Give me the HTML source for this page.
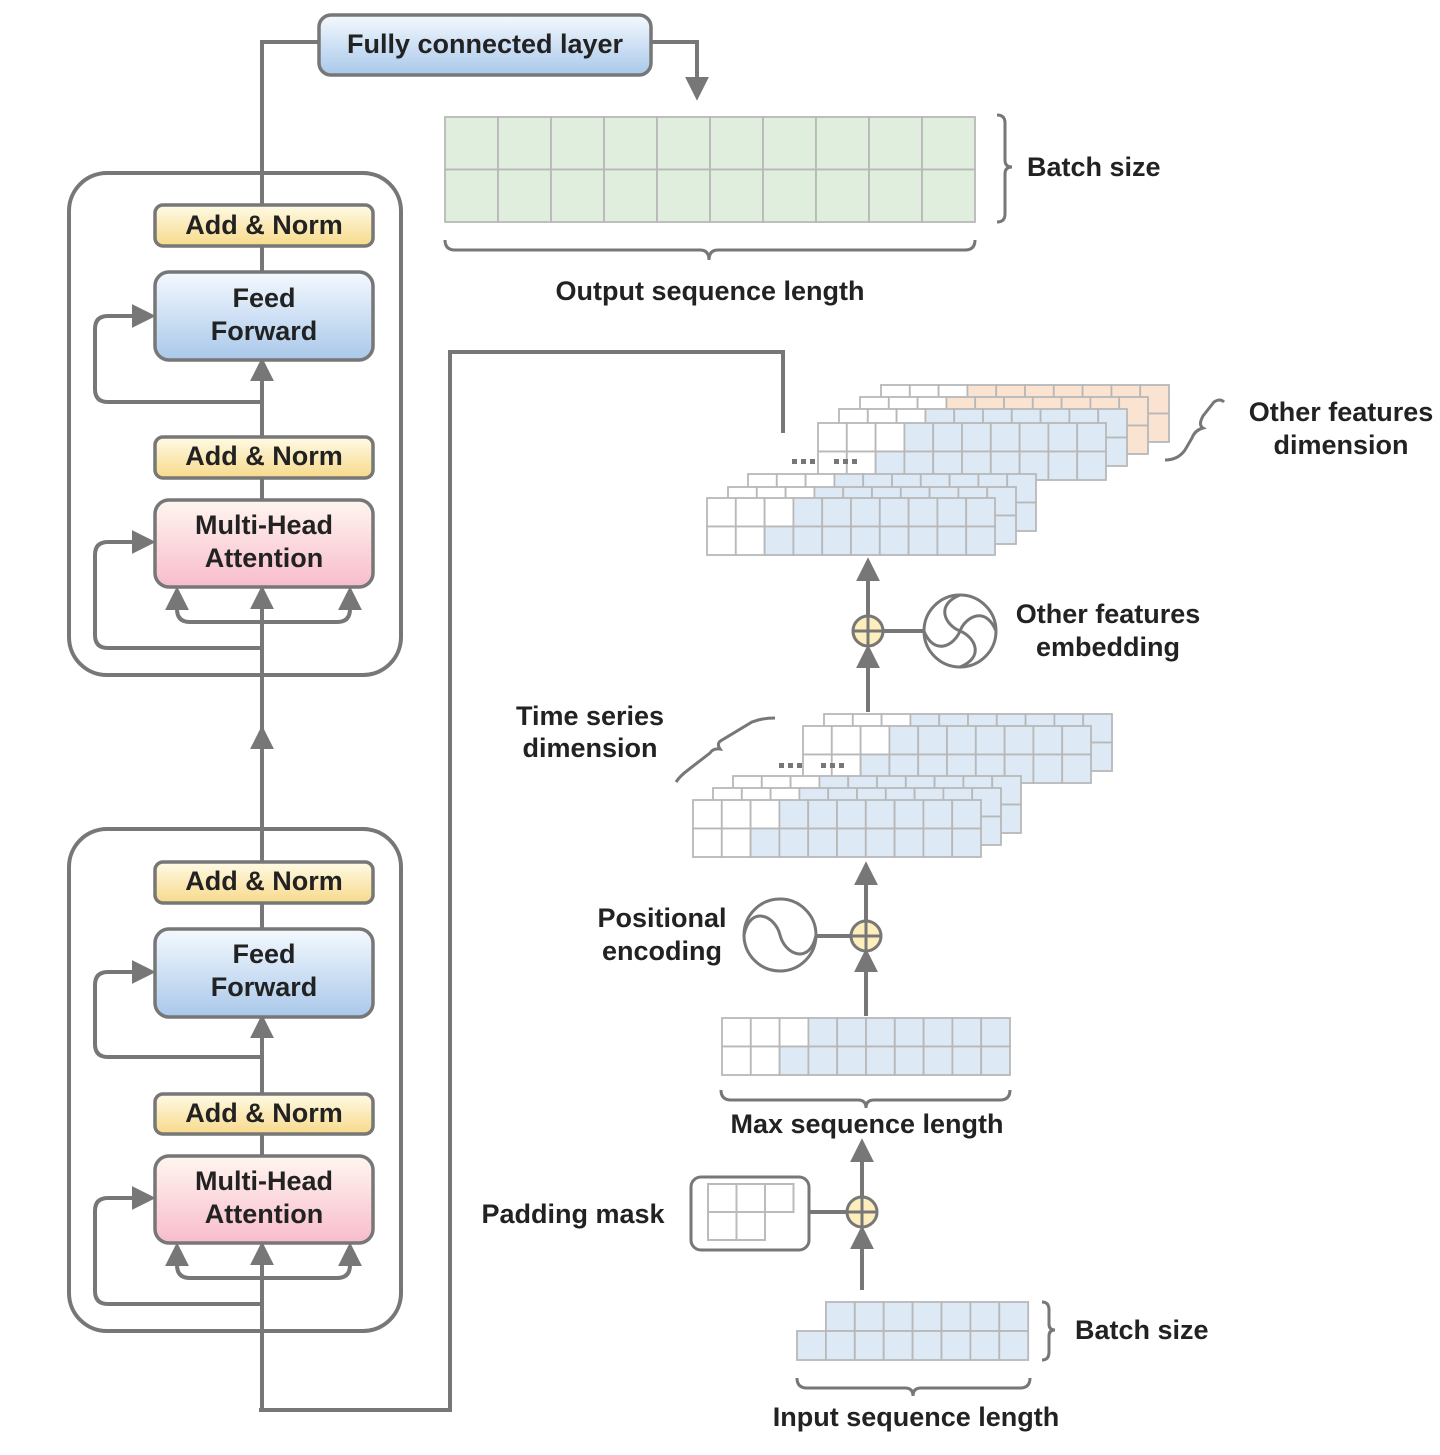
<!DOCTYPE html>
<html><head><meta charset="utf-8"><style>
html,body{margin:0;padding:0;background:#fff}
svg{display:block}
text{font-family:"Liberation Sans",Arial,sans-serif;font-weight:bold;fill:#222;font-size:27px}
</style></head><body>
<svg id="s" width="1440" height="1455" viewBox="0 0 1440 1455" xmlns="http://www.w3.org/2000/svg">
<defs>
<linearGradient id="gy" x1="0" y1="0" x2="0" y2="1"><stop offset="0" stop-color="#fffbe6"/><stop offset="1" stop-color="#f7d98a"/></linearGradient>
<linearGradient id="gb" x1="0" y1="0" x2="0" y2="1"><stop offset="0" stop-color="#f4f9fe"/><stop offset="1" stop-color="#a9c8ea"/></linearGradient>
<linearGradient id="gp" x1="0" y1="0" x2="0" y2="1"><stop offset="0" stop-color="#fff6f0"/><stop offset="1" stop-color="#f8bccc"/></linearGradient>
<marker id="ar" viewBox="0 0 10 10" refX="8" refY="5" markerWidth="6" markerHeight="6" orient="auto-start-reverse"><path d="M0,0 L10,5 L0,10 z" fill="#777"/></marker>
</defs>
<g fill="none" stroke="#777" stroke-width="4">
<rect x="69" y="173" width="332" height="502" rx="38"/>
<rect x="69" y="829" width="332" height="502" rx="38"/>
<path d="M262,246 V272 M262,478 V500"/>
<path d="M262,205 V42 H319"/>
<path d="M651,42 H697 V96" marker-end="url(#ar)"/>
<path d="M262,437 V362" marker-end="url(#ar)"/>
<path d="M262,402 H108 Q95,402 95,389 V329 Q95,316 108,316 H151" marker-end="url(#ar)"/>
<path d="M262,648 H108 Q95,648 95,635 V555 Q95,542 108,542 H151" marker-end="url(#ar)"/>
<path d="M262,862 V675"/>
<path d="M262,760 V730" marker-end="url(#ar)"/>
<path d="M262,675 V590" marker-end="url(#ar)"/>
<path d="M262,622 H190 Q177,622 177,609 V591" marker-end="url(#ar)"/>
<path d="M262,622 H337 Q350,622 350,609 V591" marker-end="url(#ar)"/>
<path d="M262,903 V929 M262,1134 V1156"/>
<path d="M262,1094 V1019" marker-end="url(#ar)"/>
<path d="M262,1057 H108 Q95,1057 95,1044 V985 Q95,972 108,972 H151" marker-end="url(#ar)"/>
<path d="M262,1304 H108 Q95,1304 95,1291 V1211 Q95,1198 108,1198 H151" marker-end="url(#ar)"/>
<path d="M262,1410 V1246" marker-end="url(#ar)"/>
<path d="M262,1278 H190 Q177,1278 177,1265 V1247" marker-end="url(#ar)"/>
<path d="M262,1278 H337 Q350,1278 350,1265 V1247" marker-end="url(#ar)"/>
<path d="M259,1410 H450 V352 H783 V433"/>
<path d="M862,1290 V1230" marker-end="url(#ar)"/>
<path d="M862,1196 V1143" marker-end="url(#ar)"/>
<path d="M809,1212 H847"/>
<path d="M866,1016 V953" marker-end="url(#ar)"/>
<path d="M866,920 V866" marker-end="url(#ar)"/>
<path d="M816,936 H851"/>
<path d="M868,712 V649" marker-end="url(#ar)"/>
<path d="M868,616 V562" marker-end="url(#ar)"/>
<path d="M883,631 H924"/>
</g>
<g stroke="#777" stroke-width="3.5">
<rect x="319" y="15" width="332" height="60" rx="12" fill="url(#gb)"/>
<rect x="155" y="205" width="218" height="41" rx="8" fill="url(#gy)"/>
<rect x="155" y="272" width="218" height="88" rx="14" fill="url(#gb)"/>
<rect x="155" y="437" width="218" height="41" rx="8" fill="url(#gy)"/>
<rect x="155" y="500" width="218" height="87" rx="14" fill="url(#gp)"/>
<rect x="155" y="862" width="218" height="41" rx="8" fill="url(#gy)"/>
<rect x="155" y="929" width="218" height="88" rx="14" fill="url(#gb)"/>
<rect x="155" y="1094" width="218" height="40" rx="8" fill="url(#gy)"/>
<rect x="155" y="1156" width="218" height="87" rx="14" fill="url(#gp)"/>
</g>
<g text-anchor="middle">
<text x="485" y="53">Fully connected layer</text>
<text x="264" y="234">Add &amp; Norm</text>
<text x="264" y="307">Feed</text><text x="264" y="340">Forward</text>
<text x="264" y="465">Add &amp; Norm</text>
<text x="264" y="534">Multi-Head</text><text x="264" y="567">Attention</text>
<text x="264" y="890">Add &amp; Norm</text>
<text x="264" y="963">Feed</text><text x="264" y="996">Forward</text>
<text x="264" y="1122">Add &amp; Norm</text>
<text x="264" y="1190">Multi-Head</text><text x="264" y="1223">Attention</text>
<text x="710" y="300">Output sequence length</text>
<text x="1341" y="421">Other features</text><text x="1341" y="454">dimension</text>
<text x="1108" y="623">Other features</text><text x="1108" y="656">embedding</text>
<text x="590" y="725">Time series</text><text x="590" y="757">dimension</text>
<text x="662" y="927">Positional</text><text x="662" y="960">encoding</text>
<text x="867" y="1133">Max sequence length</text>
<text x="573" y="1223">Padding mask</text>
<text x="916" y="1426">Input sequence length</text>
</g>
<text x="1027" y="176">Batch size</text>
<text x="1075" y="1339">Batch size</text>
<g id="grids"></g>
<g fill="none" stroke="#777" stroke-width="3">
<path d="M997,115 Q1005,115 1005,123 V160 Q1005,167 1012,167 Q1005,167 1005,174 V214 Q1005,222 997,222"/>
<path d="M445,240 Q445,250 455,250 H700 Q709,250 709,260 Q709,250 718,250 H965 Q975,250 975,240"/>
<path d="M721,1090 Q721,1100 731,1100 H858 Q866,1100 866,1108 Q866,1100 874,1100 H1000 Q1010,1100 1010,1090"/>
<path d="M797,1378 Q797,1388 807,1388 H905 Q913,1388 913,1396 Q913,1388 921,1388 H1020 Q1030,1388 1030,1378"/>
<path d="M1042,1302 Q1049,1302 1049,1310 V1324 Q1049,1330 1055,1330 Q1049,1330 1049,1336 V1352 Q1049,1360 1042,1360"/>
<path d="M1165,460 Q1178,460 1185,450 L1192,438 Q1195,430 1203,428 Q1198,425 1203,416 L1214,402 Q1220,398 1224,402"/>
<path d="M676,782 Q680,776 688,770 L710,753 Q713,748 720,749 Q716,743 722,740 L752,722 Q762,718 775,718"/>
</g>
<g stroke="#777" stroke-width="3">
<circle cx="868" cy="631" r="15" fill="#fdeebb"/><path d="M853,631 H883 M868,616 V646"/>
<circle cx="866" cy="936" r="15" fill="#fdeebb"/><path d="M851,936 H881 M866,921 V951"/>
<circle cx="862" cy="1212" r="15" fill="#fdeebb"/><path d="M847,1212 H877 M862,1197 V1227"/>
<circle cx="960" cy="631" r="36" fill="#fff"/>
<path fill="none" d="M960,595 C935,605 945,625 960,631 M996,631 C986,606 966,616 960,631 M960,667 C985,657 975,637 960,631 M924,631 C934,656 954,646 960,631"/>
<circle cx="780" cy="935" r="36" fill="#fff"/>
<path fill="none" d="M744,935 C750,905 775,915 780,935 C785,955 810,965 816,935"/>
<rect x="691" y="1177" width="118" height="73" rx="10" fill="#fff"/>
</g>
<g fill="#fff" stroke="#bbb" stroke-width="2">
<rect x="708" y="1184" width="28.5" height="28"/><rect x="736.5" y="1184" width="28.5" height="28"/><rect x="765" y="1184" width="28.5" height="28"/>
<rect x="708" y="1212" width="28.5" height="28"/><rect x="736.5" y="1212" width="28.5" height="28"/>
</g>
<g fill="#777">
<rect x="792" y="459" width="5" height="5"/><rect x="801" y="459" width="5" height="5"/><rect x="810" y="459" width="5" height="5"/>
<rect x="834" y="459" width="5" height="5"/><rect x="843" y="459" width="5" height="5"/><rect x="852" y="459" width="5" height="5"/>
<rect x="779" y="763" width="5" height="5"/><rect x="788" y="763" width="5" height="5"/><rect x="797" y="763" width="5" height="5"/>
<rect x="821" y="763" width="5" height="5"/><rect x="830" y="763" width="5" height="5"/><rect x="839" y="763" width="5" height="5"/>
</g>
</svg>
<script>
var g=document.getElementById('grids'),NS='http://www.w3.org/2000/svg';
function r(x,y,w,h,f){var e=document.createElementNS(NS,'rect');e.setAttribute('x',x);e.setAttribute('y',y);e.setAttribute('width',w);e.setAttribute('height',h);e.setAttribute('fill',f);e.setAttribute('stroke','#b8b8b8');e.setAttribute('stroke-width','1.8');g.appendChild(e);}
function L(x,y,col,wt,wb,cols,cw,ch,skip){cols=cols||10;cw=cw||28.8;ch=ch||28.5;
for(var j=0;j<2;j++)for(var i=0;i<cols;i++){if(skip&&j==0&&i<skip)continue;var w=(j==0?i<wt:i<wb);r(x+i*cw,y+j*ch,cw,ch,w?'#fff':col);}}
var B='#dde9f5',O='#fbe3d2';
L(881,385,O,3,2);L(860,397,O,3,2);L(839,409,B,3,2);L(818,423,B,3,2);
L(748,474,B,3,2);L(728,487,B,3,2);L(707,498,B,3,2);
L(824,714,B,3,2);L(803,726,B,3,2);
L(733,776,B,3,2);L(713,788,B,3,2);L(693,800,B,3,2);
L(722,1018,B,3,2);
L(797,1302,B,0,0,8,28.9,29,1);
L(445,117,'#dfeedd',0,0,10,53,52.5);
</script>
</body></html>
